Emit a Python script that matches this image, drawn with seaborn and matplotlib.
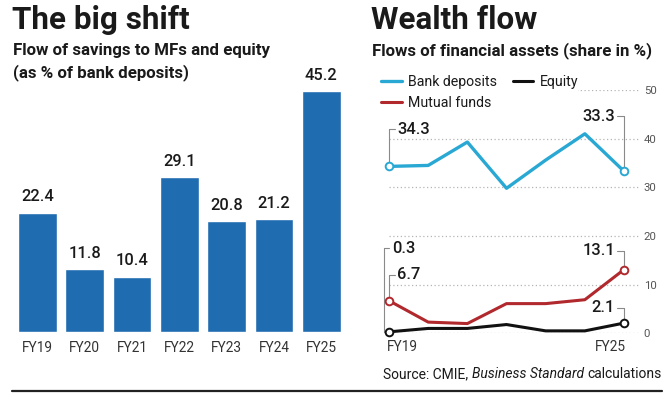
import numpy as np
import pandas as pd
import matplotlib
matplotlib.use("Agg")
import matplotlib.pyplot as plt
from matplotlib.lines import Line2D
import seaborn as sns

# ---------------- data ----------------
years = ["FY19", "FY20", "FY21", "FY22", "FY23", "FY24", "FY25"]
mf_equity_share = [22.4, 11.8, 10.4, 29.1, 20.8, 21.2, 45.2]

bank_deposits = [34.3, 34.5, 39.3, 29.8, 35.6, 41.0, 33.3]
mutual_funds = [6.7, 2.3, 2.0, 6.1, 6.1, 6.9, 13.1]
equity = [0.3, 1.0, 1.0, 1.8, 0.5, 0.5, 2.1]
right_ticks = [0, 10, 20, 30, 40, 50]

# ---------------- style ----------------
sns.set_theme(style="white")
plt.rcParams["font.family"] = ["Roboto", "DejaVu Sans"]

BAR = "#1f6cb0"
BANK = "#2aa8d4"
MF = "#b1282d"
EQ = "#111111"
TXT = "#1a1a1a"
GREY = "#8a8a8a"

W, H = 670, 397
fig = plt.figure(figsize=(6.7, 3.97), dpi=100)

def fx(px):
    return px / W

def fy(py):
    return (H - py) / H

# ---------------- titles ----------------
fig.text(fx(12), fy(29), "The big shift", fontsize=22.6, fontweight="bold", color=TXT, va="baseline")
fig.text(fx(13), fy(55), "Flow of savings to MFs and equity", fontsize=12.2, fontweight="semibold", color=TXT, va="baseline")
fig.text(fx(13), fy(77), "(as % of bank deposits)", fontsize=12.2, fontweight="semibold", color=TXT, va="baseline")

fig.text(fx(371), fy(29), "Wealth flow", fontsize=22.6, fontweight="bold", color=TXT, va="baseline")
fig.text(fx(372), fy(55), "Flows of financial assets (share in %)", fontsize=12.2, fontweight="semibold", color=TXT, va="baseline")

# ---------------- left: bar chart ----------------
axL = fig.add_axes([fx(13.8), fy(332), fx(345 - 13.8), 266.6 / H])
sns.barplot(x=years, y=mf_equity_share, color=BAR, width=0.82, saturation=1, ax=axL)
axL.set_ylim(0, 50)
axL.set_xlim(-0.5, len(years) - 0.5)
axL.bar_label(axL.containers[0], fmt="%.1f", padding=6, fontsize=11.8, fontweight="medium", color=TXT)
axL.set_yticks([])
axL.tick_params(axis="x", length=0, pad=6.5, labelsize=9.8, labelcolor="#333333")
for s in axL.spines.values():
    s.set_visible(False)
axL.set_xlabel("")
axL.set_ylabel("")

# ---------------- right: line chart ----------------
x_span = 6.4
axR = fig.add_axes([fx(389), fy(333.3), fx(39.17 * x_span), 243.3 / H])
idx = np.arange(len(years))
sns.lineplot(x=idx, y=bank_deposits, color=BANK, linewidth=2.4, ax=axR, label="Bank deposits", zorder=3)
sns.lineplot(x=idx, y=mutual_funds, color=MF, linewidth=2.2, ax=axR, label="Mutual funds", zorder=3)
sns.lineplot(x=idx, y=equity, color=EQ, linewidth=2.2, ax=axR, label="Equity", zorder=3)
axR.set_xlim(0, x_span)
axR.set_ylim(0, 50)
axR.set_yticks(right_ticks)
axR.set_xticks([])
axR.yaxis.tick_right()
axR.tick_params(axis="y", length=0, pad=3, labelsize=8.2, labelcolor="#555555")
axR.grid(axis="y", color="#b5b5b5", linestyle=(0, (1, 2)), linewidth=0.9)
axR.set_axisbelow(True)
for s in axR.spines.values():
    s.set_visible(False)

# end-point markers
for series, col in [(bank_deposits, BANK), (mutual_funds, MF), (equity, EQ)]:
    axR.plot([idx[0], idx[-1]], [series[0], series[-1]], linestyle="none", marker="o",
             markersize=5.5, markerfacecolor="white", markeredgecolor=col, markeredgewidth=1.4,
             zorder=5, clip_on=False)

# bracket labels
lab_kw = dict(fontsize=11.8, fontweight="medium", color=TXT, va="center", clip_on=False)
br_kw = dict(color=GREY, linewidth=0.8, clip_on=False, zorder=2)
dx_tick = 0.15
# left side
for val, ylab, xv in [(bank_deposits[0], 41.9, 0.0), (mutual_funds[0], 12.0, 0.0), (equity[0], 17.5, -0.14)]:
    axR.plot([xv, xv], [val, ylab], **br_kw)
    axR.plot([xv, xv + dx_tick], [ylab, ylab], **br_kw)
    if xv != 0:
        axR.plot([xv, idx[0]], [val, val], **br_kw)
    axR.text(xv + dx_tick + 0.06, ylab, f"{val:.1f}", ha="left", **lab_kw)
# right side
last = idx[-1]
for val, ylab in [(bank_deposits[-1], 44.6), (mutual_funds[-1], 17.0), (equity[-1], 5.2)]:
    axR.plot([last, last], [val, ylab], **br_kw)
    axR.plot([last, last - 0.18], [ylab, ylab], **br_kw)
    axR.text(last - 0.23, ylab, f"{val:.1f}", ha="right", **lab_kw)

# FY19 / FY25 labels
axR.text(idx[0] - 0.05, -2.9, years[0], ha="left", va="center", fontsize=9.8, color="#333333", clip_on=False)
axR.text(idx[-1] + 0.05, -2.9, years[-1], ha="right", va="center", fontsize=9.8, color="#333333", clip_on=False)

# legend
h, l = axR.get_legend_handles_labels()
order = [l.index("Bank deposits"), l.index("Mutual funds"), l.index("Equity")]
leg = axR.legend([h[i] for i in order], [l[i] for i in order], ncol=2, loc="upper left",
                 bbox_to_anchor=(fx(381), fy(75)), bbox_transform=fig.transFigure,
                 frameon=True, framealpha=1, facecolor="white", edgecolor="none",
                 fontsize=10.2, handlelength=1.45, handletextpad=0.45, columnspacing=1.1,
                 labelspacing=0.5, borderpad=0.0, borderaxespad=0)
for t in leg.get_texts():
    t.set_color(TXT)

# source and bottom rule
src = fig.text(fx(662), fy(378), "calculations", ha="right", va="baseline", fontsize=10, color=TXT)
fig.canvas.draw()
r = fig.canvas.get_renderer()
bb = src.get_window_extent(r)
it = fig.text(bb.x0 / fig.bbox.width - fx(3.5), fy(378), "Business Standard", ha="right", va="baseline",
              fontsize=10, color=TXT, style="italic")
bb2 = it.get_window_extent(r)
fig.text(bb2.x0 / fig.bbox.width - fx(3.5), fy(378), "Source: CMIE,", ha="right", va="baseline",
         fontsize=10, color=TXT)

fig.add_artist(Line2D([fx(12), fx(662)], [fy(391), fy(391)], color="#222222", linewidth=1.6))

fig.savefig("out.png", dpi=100, facecolor="white")
